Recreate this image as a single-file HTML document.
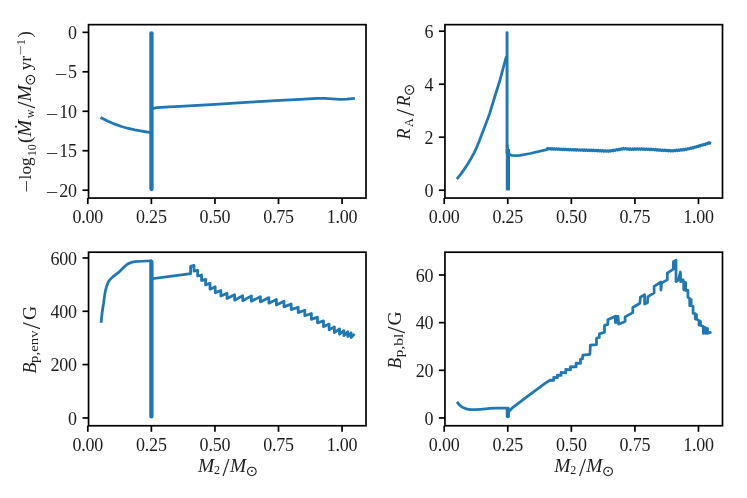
<!DOCTYPE html>
<html lang="en"><head><meta charset="utf-8"><title>Figure</title>
<style>
html,body{margin:0;padding:0;background:#fff;}
svg{display:block;}
.t{font-family:"Liberation Serif", serif;font-size:17.3px;fill:#1c1c1c;}
.k{font-family:"Liberation Serif", serif;font-size:18px;letter-spacing:-0.2px;fill:#1c1c1c;}
.i{font-family:"Liberation Serif", serif;font-style:italic;font-size:17.9px;fill:#1c1c1c;}
.s{font-family:"Liberation Serif", serif;font-size:12.1px;fill:#1c1c1c;}
.o{font-family:"DejaVu Sans", sans-serif;font-size:14.8px;fill:#1c1c1c;}
</style></head><body>
<svg width="747" height="498" viewBox="0 0 747 498">
<rect width="747" height="498" fill="#fff"/>
<g transform="translate(0,0.3)">
<path d="M101.70,117.75 L108.00,120.85 L114.90,123.85 L121.50,126.15 L128.40,128.15 L135.00,129.55 L141.80,130.75 L149.50,132.05" fill="none" stroke="#1f77b4" stroke-width="2.75" stroke-linecap="square" stroke-linejoin="round"/>
<path d="M151.45,33.00 L151.45,188.70" fill="none" stroke="#1f77b4" stroke-width="4.3" stroke-linecap="round" stroke-linejoin="round"/>
<path d="M153.50,108.10 L157.00,107.40 L168.80,106.50 L180.00,106.00 L215.00,104.10 L250.00,101.90 L280.00,100.00 L300.00,99.10 L317.10,98.10 L325.00,98.10 L340.00,99.00 L347.00,98.80 L353.50,98.20" fill="none" stroke="#1f77b4" stroke-width="2.75" stroke-linecap="square" stroke-linejoin="round"/>
<path d="M457.70,177.70 L461.00,173.60 L464.70,168.30 L468.10,163.20 L471.40,157.60 L474.10,152.50 L476.80,146.80 L479.20,140.90 L481.50,134.70 L485.70,123.90 L489.60,113.30 L494.70,96.70 L500.00,79.70 L503.05,68.30 L506.00,57.40" fill="none" stroke="#1f77b4" stroke-width="2.75" stroke-linecap="square" stroke-linejoin="round"/>
<path d="M507.05,32.30 L507.05,152.70" fill="none" stroke="#1f77b4" stroke-width="2.9" stroke-linecap="round" stroke-linejoin="round"/>
<path d="M507.90,148.70 L507.90,190.20" fill="none" stroke="#1f77b4" stroke-width="4.2" stroke-linecap="butt" stroke-linejoin="round"/>
<path d="M507.20,145.70 L507.60,150.00 L508.50,152.70 L510.00,154.40 L512.30,155.20 L516.00,155.40 L520.00,155.00 L530.00,153.20 L546.80,149.40 L547.50,147.95 L548.65,148.90 L549.80,148.04 L550.95,148.99 L552.10,148.13 L553.25,149.08 L554.40,148.23 L555.55,149.17 L556.70,148.32 L557.85,149.26 L559.00,148.41 L560.15,149.36 L561.30,148.51 L562.45,149.47 L563.60,148.62 L564.75,149.58 L565.90,148.73 L567.05,149.69 L568.20,148.84 L569.35,149.80 L570.50,148.95 L571.65,149.89 L572.80,149.02 L573.95,149.96 L575.10,149.10 L576.25,150.03 L577.40,149.17 L578.55,150.10 L579.70,149.24 L580.85,150.17 L582.00,149.31 L583.15,150.24 L584.30,149.37 L585.45,150.30 L586.60,149.44 L587.75,150.37 L588.90,149.50 L590.05,150.43 L591.20,149.58 L592.35,150.52 L593.50,149.67 L594.65,150.62 L595.80,149.77 L596.95,150.72 L598.10,149.87 L599.25,150.82 L600.40,149.97 L601.55,150.93 L602.70,150.08 L603.85,151.04 L605.00,150.20 L606.15,151.16 L607.30,150.31 L608.45,151.20 L609.60,150.16 L610.75,150.92 L611.90,149.88 L613.05,150.64 L614.20,149.54 L615.35,150.23 L616.50,149.13 L617.65,149.83 L618.80,148.74 L619.95,149.45 L621.10,148.36 L622.25,149.07 L623.40,147.98 L624.55,148.79 L625.70,148.01 L626.85,149.02 L628.00,148.24 L629.15,149.26 L630.30,148.44 L631.45,149.32 L632.60,148.40 L633.75,149.28 L634.90,148.35 L636.05,149.23 L637.20,148.31 L638.35,149.18 L639.50,148.26 L640.65,149.17 L641.80,148.31 L642.95,149.25 L644.10,148.39 L645.25,149.33 L646.40,148.47 L647.55,149.40 L648.70,148.54 L649.85,149.48 L651.00,148.62 L652.15,149.57 L653.30,148.77 L654.45,149.77 L655.60,148.97 L656.75,149.97 L657.90,149.17 L659.05,150.17 L660.20,149.36 L661.35,150.33 L662.50,149.49 L663.65,150.46 L664.80,149.63 L665.95,150.59 L667.10,149.76 L668.25,150.73 L669.40,149.89 L670.55,150.86 L671.70,150.03 L672.85,150.89 L674.00,149.89 L675.15,150.69 L676.30,149.69 L677.45,150.50 L678.60,149.48 L679.75,150.24 L680.90,149.21 L682.05,149.97 L683.20,148.93 L684.35,149.70 L685.50,148.66 L686.65,149.32 L687.80,148.17 L688.95,148.82 L690.10,147.67 L691.25,148.31 L692.40,147.14 L693.55,147.71 L694.70,146.48 L695.85,147.05 L697.00,145.82 L698.15,146.39 L699.30,145.17 L700.45,145.74 L701.60,144.51 L702.75,145.09 L703.90,143.86 L705.05,144.43 L706.20,143.18 L707.35,143.72 L708.50,142.46 L709.65,143.00 L709.80,142.50" fill="none" stroke="#1f77b4" stroke-width="2.75" stroke-linecap="square" stroke-linejoin="round"/>
<path d="M101.20,321.10 L102.20,311.70 L103.50,303.50 L104.40,296.70 L105.50,290.10 L106.70,285.70 L108.20,282.00 L110.00,279.30 L112.20,277.10 L115.00,274.90 L118.30,272.40 L121.30,269.50 L124.30,266.50 L127.00,264.20 L129.70,262.70 L132.30,261.85 L135.10,261.35 L141.80,260.95 L149.20,260.65 L150.60,260.50" fill="none" stroke="#1f77b4" stroke-width="2.75" stroke-linecap="square" stroke-linejoin="round"/>
<path d="M151.40,261.60 L151.40,416.10" fill="none" stroke="#1f77b4" stroke-width="4.3" stroke-linecap="round" stroke-linejoin="round"/>
<path d="M153.50,278.20 L170.00,276.00 L190.60,273.30 L190.60,266.00 L194.00,265.10 L194.00,270.90 L197.60,269.90 L197.60,275.70 L201.50,274.70 L201.50,280.30 L205.60,278.90 L205.60,284.60 L210.00,283.00 L210.00,288.90 L215.20,286.50 L215.20,292.50 L220.90,290.10 L220.90,295.70 L227.00,293.00 L227.00,298.30 L234.60,294.50 L234.60,299.90 L242.70,295.30 L242.70,300.50 L251.40,295.60 L251.40,301.00 L260.40,296.30 L260.40,301.60 L268.90,297.30 L268.90,302.90 L276.40,299.20 L276.40,304.80 L284.00,301.00 L284.00,306.60 L291.20,303.70 L291.20,309.30 L298.20,306.90 L298.20,312.30 L304.80,309.90 L304.80,315.50 L311.40,313.20 L311.40,319.10 L317.50,316.80 L317.50,322.60 L323.50,320.60 L323.50,326.40 L329.10,323.80 L329.10,329.60 L334.40,326.60 L334.40,332.40 L339.50,328.60 L339.50,334.00 L343.90,330.30 L343.90,335.40 L347.80,331.40 L347.80,336.20 L351.10,332.50 L351.10,337.30 L353.60,334.60" fill="none" stroke="#1f77b4" stroke-width="2.75" stroke-linecap="square" stroke-linejoin="round"/>
<path d="M457.80,402.70 L459.30,404.50 L461.20,406.00 L463.60,407.50 L466.50,408.60 L470.00,409.30 L474.60,409.40 L480.00,409.00 L485.40,408.50 L490.00,408.10 L496.10,407.80 L506.20,407.90" fill="none" stroke="#1f77b4" stroke-width="2.75" stroke-linecap="square" stroke-linejoin="round"/>
<path d="M507.85,408.50 L507.85,415.90" fill="none" stroke="#1f77b4" stroke-width="4.2" stroke-linecap="round" stroke-linejoin="round"/>
<path d="M509.90,410.10 L512.00,407.90 L525.80,397.30 L545.00,383.00 L549.70,380.00 L549.70,379.80 L553.70,380.10 L553.70,377.10 L557.40,377.40 L557.40,374.80 L561.10,375.10 L561.10,372.10 L565.80,372.60 L565.80,369.10 L570.50,369.60 L570.50,366.40 L576.10,366.60 L576.10,362.80 L580.50,363.10 L580.50,358.70 L582.50,358.50 L582.80,354.90 L589.90,354.00 L590.40,344.80 L596.50,344.30 L596.50,337.70 L599.30,337.20 L599.30,333.60 L604.50,332.00 L604.50,325.10 L607.80,324.10 L607.80,319.40 L615.40,315.90 L615.40,322.20 L616.60,322.00 L617.00,316.10 L618.00,316.10 L618.70,323.90 L625.10,321.30 L625.10,316.60 L632.80,312.30 L632.80,307.20 L639.90,302.90 L640.40,296.80 L644.60,294.40 L644.60,303.70 L647.50,302.40 L647.90,296.30 L654.10,292.60 L654.10,286.00 L660.90,281.70 L660.90,289.70 L661.60,282.70 L667.30,279.60 L667.30,272.80 L673.40,268.80 L673.40,261.30 L676.00,259.90 L676.00,281.30 L678.40,279.50 L680.40,271.70 L680.70,281.30 L683.10,279.50 L683.70,281.40 L683.70,289.50 L685.70,282.20 L685.70,290.20 L687.90,290.00 L687.90,296.80 L689.70,298.30 L689.70,305.40 L691.20,299.20 L691.20,305.40 L693.10,306.00 L693.10,313.00 L695.30,313.40 L695.30,318.80 L696.50,314.20 L696.50,318.80 L699.00,320.30 L699.00,324.90 L700.50,320.90 L700.50,324.90 L703.30,326.20 L703.30,333.10 L705.30,327.20 L705.30,333.10 L707.50,328.20 L707.50,333.10 L710.20,332.10" fill="none" stroke="#1f77b4" stroke-width="2.75" stroke-linecap="square" stroke-linejoin="round"/>
<rect x="88.55" y="24.35" width="277.45" height="173.40" fill="none" stroke="#000" stroke-width="1.7"/>
<rect x="444.95" y="24.35" width="277.55" height="173.40" fill="none" stroke="#000" stroke-width="1.7"/>
<rect x="88.55" y="251.9" width="277.45" height="173.55" fill="none" stroke="#000" stroke-width="1.7"/>
<rect x="444.95" y="251.9" width="277.55" height="173.55" fill="none" stroke="#000" stroke-width="1.7"/>
<line x1="87.80" y1="197.75" x2="87.80" y2="203.80" stroke="#000" stroke-width="1.7"/>
<text x="87.80" y="222.95" text-anchor="middle" class="k">0.00</text>
<line x1="151.37" y1="197.75" x2="151.37" y2="203.80" stroke="#000" stroke-width="1.7"/>
<text x="151.37" y="222.95" text-anchor="middle" class="k">0.25</text>
<line x1="214.94" y1="197.75" x2="214.94" y2="203.80" stroke="#000" stroke-width="1.7"/>
<text x="214.94" y="222.95" text-anchor="middle" class="k">0.50</text>
<line x1="278.51" y1="197.75" x2="278.51" y2="203.80" stroke="#000" stroke-width="1.7"/>
<text x="278.51" y="222.95" text-anchor="middle" class="k">0.75</text>
<line x1="342.08" y1="197.75" x2="342.08" y2="203.80" stroke="#000" stroke-width="1.7"/>
<text x="342.08" y="222.95" text-anchor="middle" class="k">1.00</text>
<line x1="444.20" y1="197.75" x2="444.20" y2="203.80" stroke="#000" stroke-width="1.7"/>
<text x="444.20" y="222.95" text-anchor="middle" class="k">0.00</text>
<line x1="507.77" y1="197.75" x2="507.77" y2="203.80" stroke="#000" stroke-width="1.7"/>
<text x="507.77" y="222.95" text-anchor="middle" class="k">0.25</text>
<line x1="571.34" y1="197.75" x2="571.34" y2="203.80" stroke="#000" stroke-width="1.7"/>
<text x="571.34" y="222.95" text-anchor="middle" class="k">0.50</text>
<line x1="634.91" y1="197.75" x2="634.91" y2="203.80" stroke="#000" stroke-width="1.7"/>
<text x="634.91" y="222.95" text-anchor="middle" class="k">0.75</text>
<line x1="698.48" y1="197.75" x2="698.48" y2="203.80" stroke="#000" stroke-width="1.7"/>
<text x="698.48" y="222.95" text-anchor="middle" class="k">1.00</text>
<line x1="87.80" y1="425.45" x2="87.80" y2="431.50" stroke="#000" stroke-width="1.7"/>
<text x="87.80" y="450.65" text-anchor="middle" class="k">0.00</text>
<line x1="151.37" y1="425.45" x2="151.37" y2="431.50" stroke="#000" stroke-width="1.7"/>
<text x="151.37" y="450.65" text-anchor="middle" class="k">0.25</text>
<line x1="214.94" y1="425.45" x2="214.94" y2="431.50" stroke="#000" stroke-width="1.7"/>
<text x="214.94" y="450.65" text-anchor="middle" class="k">0.50</text>
<line x1="278.51" y1="425.45" x2="278.51" y2="431.50" stroke="#000" stroke-width="1.7"/>
<text x="278.51" y="450.65" text-anchor="middle" class="k">0.75</text>
<line x1="342.08" y1="425.45" x2="342.08" y2="431.50" stroke="#000" stroke-width="1.7"/>
<text x="342.08" y="450.65" text-anchor="middle" class="k">1.00</text>
<line x1="444.20" y1="425.45" x2="444.20" y2="431.50" stroke="#000" stroke-width="1.7"/>
<text x="444.20" y="450.65" text-anchor="middle" class="k">0.00</text>
<line x1="507.77" y1="425.45" x2="507.77" y2="431.50" stroke="#000" stroke-width="1.7"/>
<text x="507.77" y="450.65" text-anchor="middle" class="k">0.25</text>
<line x1="571.34" y1="425.45" x2="571.34" y2="431.50" stroke="#000" stroke-width="1.7"/>
<text x="571.34" y="450.65" text-anchor="middle" class="k">0.50</text>
<line x1="634.91" y1="425.45" x2="634.91" y2="431.50" stroke="#000" stroke-width="1.7"/>
<text x="634.91" y="450.65" text-anchor="middle" class="k">0.75</text>
<line x1="698.48" y1="425.45" x2="698.48" y2="431.50" stroke="#000" stroke-width="1.7"/>
<text x="698.48" y="450.65" text-anchor="middle" class="k">1.00</text>
<line x1="82.50" y1="32.05" x2="88.55" y2="32.05" stroke="#000" stroke-width="1.7"/>
<text x="76.85" y="38.75" text-anchor="end" class="k">0</text>
<line x1="82.50" y1="71.5" x2="88.55" y2="71.5" stroke="#000" stroke-width="1.7"/>
<text x="76.85" y="78.20" text-anchor="end" class="k">5</text>
<text x="67.25" y="79.80" text-anchor="end" class="t" textLength="12.6" lengthAdjust="spacingAndGlyphs">−</text>
<line x1="82.50" y1="110.97" x2="88.55" y2="110.97" stroke="#000" stroke-width="1.7"/>
<text x="76.85" y="117.67" text-anchor="end" class="k">10</text>
<text x="58.45" y="119.27" text-anchor="end" class="t" textLength="12.6" lengthAdjust="spacingAndGlyphs">−</text>
<line x1="82.50" y1="150.43" x2="88.55" y2="150.43" stroke="#000" stroke-width="1.7"/>
<text x="76.85" y="157.13" text-anchor="end" class="k">15</text>
<text x="58.45" y="158.73" text-anchor="end" class="t" textLength="12.6" lengthAdjust="spacingAndGlyphs">−</text>
<line x1="82.50" y1="189.9" x2="88.55" y2="189.9" stroke="#000" stroke-width="1.7"/>
<text x="76.85" y="196.60" text-anchor="end" class="k">20</text>
<text x="58.45" y="198.20" text-anchor="end" class="t" textLength="12.6" lengthAdjust="spacingAndGlyphs">−</text>
<line x1="438.90" y1="30.9" x2="444.95" y2="30.9" stroke="#000" stroke-width="1.7"/>
<text x="433.25" y="37.60" text-anchor="end" class="k">6</text>
<line x1="438.90" y1="83.9" x2="444.95" y2="83.9" stroke="#000" stroke-width="1.7"/>
<text x="433.25" y="90.60" text-anchor="end" class="k">4</text>
<line x1="438.90" y1="136.9" x2="444.95" y2="136.9" stroke="#000" stroke-width="1.7"/>
<text x="433.25" y="143.60" text-anchor="end" class="k">2</text>
<line x1="438.90" y1="189.9" x2="444.95" y2="189.9" stroke="#000" stroke-width="1.7"/>
<text x="433.25" y="196.60" text-anchor="end" class="k">0</text>
<line x1="82.50" y1="257.65" x2="88.55" y2="257.65" stroke="#000" stroke-width="1.7"/>
<text x="76.85" y="264.35" text-anchor="end" class="k">600</text>
<line x1="82.50" y1="310.97" x2="88.55" y2="310.97" stroke="#000" stroke-width="1.7"/>
<text x="76.85" y="317.67" text-anchor="end" class="k">400</text>
<line x1="82.50" y1="364.3" x2="88.55" y2="364.3" stroke="#000" stroke-width="1.7"/>
<text x="76.85" y="371.00" text-anchor="end" class="k">200</text>
<line x1="82.50" y1="417.65" x2="88.55" y2="417.65" stroke="#000" stroke-width="1.7"/>
<text x="76.85" y="424.35" text-anchor="end" class="k">0</text>
<line x1="438.90" y1="274.7" x2="444.95" y2="274.7" stroke="#000" stroke-width="1.7"/>
<text x="433.25" y="281.40" text-anchor="end" class="k">60</text>
<line x1="438.90" y1="322.35" x2="444.95" y2="322.35" stroke="#000" stroke-width="1.7"/>
<text x="433.25" y="329.05" text-anchor="end" class="k">40</text>
<line x1="438.90" y1="370.0" x2="444.95" y2="370.0" stroke="#000" stroke-width="1.7"/>
<text x="433.25" y="376.70" text-anchor="end" class="k">20</text>
<line x1="438.90" y1="417.65" x2="444.95" y2="417.65" stroke="#000" stroke-width="1.7"/>
<text x="433.25" y="424.35" text-anchor="end" class="k">0</text>
</g>
<text x="198.00" y="471.7" class="i" textLength="16.2" lengthAdjust="spacingAndGlyphs">M</text>
<text x="214.00" y="474.0" class="s">2</text>
<text x="222.60" y="475.7" class="t" style="font-size:25px">/</text>
<text x="229.90" y="471.7" class="i" textLength="16.2" lengthAdjust="spacingAndGlyphs">M</text>
<text x="245.80" y="475.9" class="o">⊙</text>
<text x="554.30" y="471.7" class="i" textLength="16.2" lengthAdjust="spacingAndGlyphs">M</text>
<text x="570.30" y="474.0" class="s">2</text>
<text x="578.90" y="475.7" class="t" style="font-size:25px">/</text>
<text x="586.20" y="471.7" class="i" textLength="16.2" lengthAdjust="spacingAndGlyphs">M</text>
<text x="602.10" y="475.9" class="o">⊙</text>
<g transform="translate(30.8,0) rotate(-90)">
<text x="-192.8" y="0.9" class="t" textLength="12.6" lengthAdjust="spacingAndGlyphs">−</text>
<text x="-179.4" y="0" class="t">log</text>
<text x="-156.3" y="5.2" class="s">10</text>
<text x="-143.0" y="0" class="t" style="font-size:19.3px">(</text>
<text x="-136.5" y="0" class="i" textLength="16.6" lengthAdjust="spacingAndGlyphs">Ṁ</text>
<text x="-118.3" y="2.8" class="s">w</text>
<text x="-108.4" y="4.0" class="t" style="font-size:25px">/</text>
<text x="-101.4" y="0" class="i" textLength="16.4" lengthAdjust="spacingAndGlyphs">M</text>
<text x="-85.7" y="4.25" class="o">⊙</text>
<text x="-70.2" y="0" class="t">yr</text>
<text x="-55.3" y="-6.3" class="s" textLength="10.4" lengthAdjust="spacingAndGlyphs">−</text>
<text x="-45.3" y="-6.3" class="s">1</text>
<text x="-37.5" y="0" class="t" style="font-size:19.3px">)</text>
</g>
<g transform="translate(409.9,0) rotate(-90)">
<text x="-139.5" y="0" class="i">R</text>
<text x="-127.0" y="2.6" class="s">A</text>
<text x="-116.1" y="4.0" class="t" style="font-size:25px">/</text>
<text x="-106.6" y="0" class="i">R</text>
<text x="-96.1" y="4.0" class="o">⊙</text>
</g>
<g transform="translate(35.5,0) rotate(-90)">
<text x="-373.6" y="0" class="i">B</text>
<text x="-363.0" y="2.8" class="s" textLength="32.6" lengthAdjust="spacingAndGlyphs">p,env</text>
<text x="-329.2" y="4.0" class="t" style="font-size:25px">/</text>
<text x="-319.9" y="0" class="t" style="font-size:19.6px">G</text>
</g>
<g transform="translate(400.6,0) rotate(-90)">
<text x="-368.8" y="0" class="i">B</text>
<text x="-357.6" y="2.8" class="s" textLength="24.0" lengthAdjust="spacingAndGlyphs">p,bl</text>
<text x="-333.5" y="4.0" class="t" style="font-size:25px">/</text>
<text x="-325.5" y="0" class="t" style="font-size:19.6px">G</text>
</g>
</svg></body></html>
